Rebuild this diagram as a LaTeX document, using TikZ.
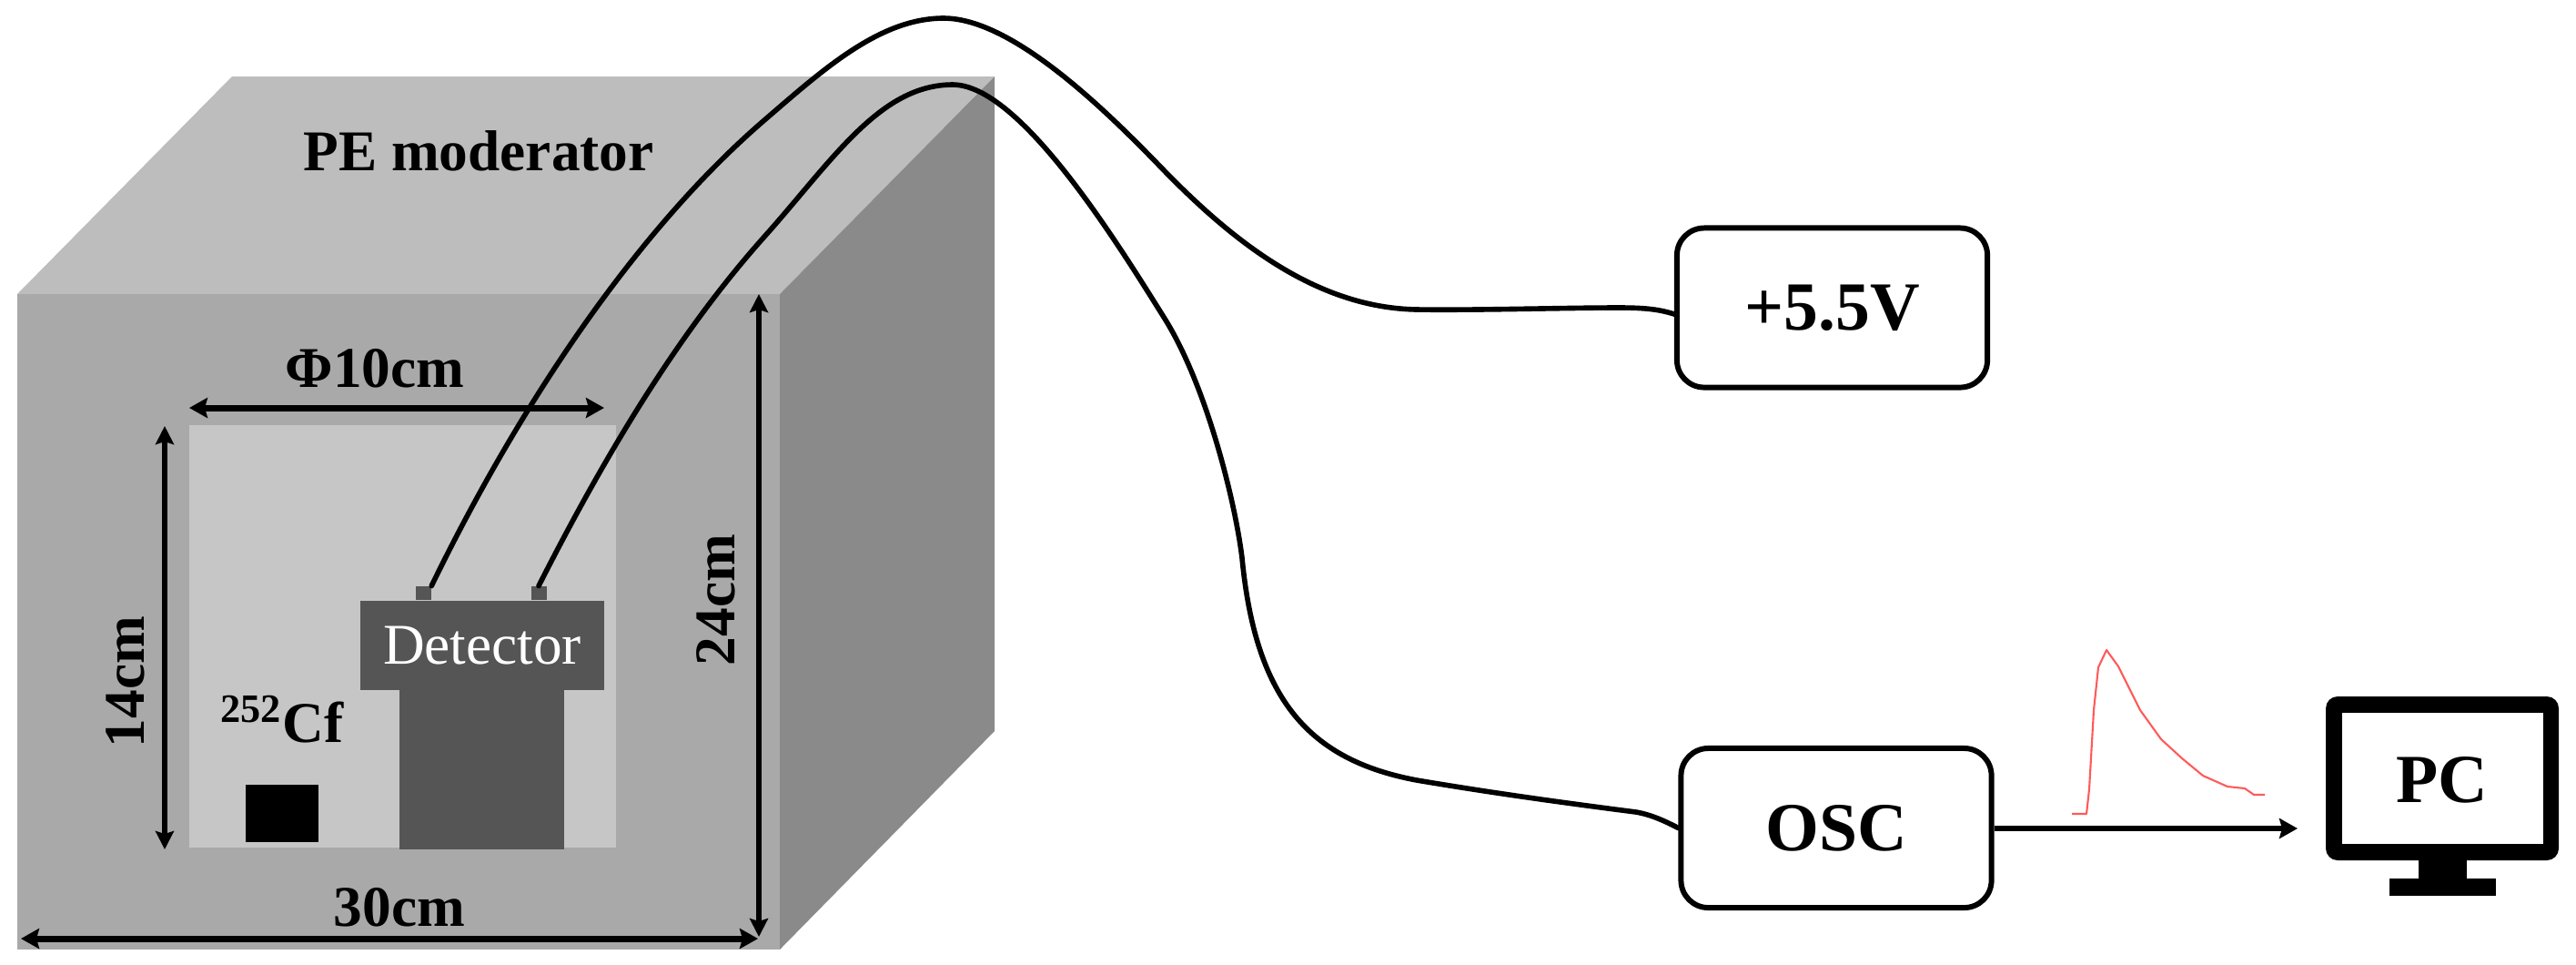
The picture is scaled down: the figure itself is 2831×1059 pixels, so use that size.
\documentclass[tikz,border=0pt]{standalone}
\usepackage{fontspec}
\setmainfont{Liberation Serif}
\usetikzlibrary{arrows.meta}
\definecolor{topface}{HTML}{BDBDBD}
\definecolor{frontface}{HTML}{A9A9A9}
\definecolor{sideface}{HTML}{8A8A8A}
\definecolor{cavity}{HTML}{C6C6C6}
\definecolor{detgray}{HTML}{555555}
\definecolor{pulse}{HTML}{FF5A5A}
\tikzset{
  lbl/.style={inner sep=0pt,font=\fontsize{18}{20}\selectfont\bfseries,text=black},
  boxlbl/.style={draw=black,line width=1.7pt,rounded corners=0.3cm,fill=white,inner sep=0pt,
     font=\fontsize{21.5}{24}\selectfont\bfseries,minimum width=3.41cm,minimum height=1.75cm},
  cable/.style={line width=1.6pt,black,line cap=round,line join=round},
  fatdim/.style={line width=2pt,black,{Stealth[length=0.2cm,width=0.22cm,inset=0.03cm]}-{Stealth[length=0.2cm,width=0.22cm,inset=0.03cm]}},
  thindim/.style={line width=1.6pt,black,{Stealth[length=0.2cm,width=0.2cm,inset=0.03cm]}-{Stealth[length=0.2cm,width=0.2cm,inset=0.03cm]}},
  pinnode/.style={fill=detgray,inner sep=0pt,minimum width=0.17cm,minimum height=0.15cm},
}
\begin{document}
\begin{tikzpicture}[x=0.01cm,y=-0.01cm]
\useasboundingbox (0,0) rectangle (2831,1059);
% cube
\fill[topface] (255,84) -- (1093,84) -- (857,323) -- (19,323) -- cycle;
\fill[sideface] (1093,84) -- (1093,803) -- (857,1043) -- (857,323) -- cycle;
\fill[frontface] (19,323) rectangle (857,1043);
% cavity
\fill[cavity] (208,467) rectangle (677,931);
% detector
\fill[detgray] (439,750) rectangle (620,933);
\node[fill=detgray,inner sep=0pt,minimum width=2.68cm,minimum height=0.98cm,text=white,font=\fontsize{18}{20}\selectfont] (det) at (530,709) {Detector};
\node[pinnode,anchor=south] (pinA) at (465,660) {};
\node[pinnode,anchor=south] (pinB) at (592,660) {};
% source
\node[fill=black,inner sep=0pt,minimum width=0.8cm,minimum height=0.63cm] (src) at (310,893.5) {};
\node[lbl] (cf) at (310,790) {\textsuperscript{252}Cf};
% text labels
\node[lbl] (pe) at (526,166) {PE moderator};
\node[lbl] (phi) at (412,405) {Φ10cm};
\node[lbl] (w30) at (439,997) {30cm};
\node[lbl,rotate=90] (h14) at (138,749) {14cm};
\node[lbl,rotate=90] (h24) at (787,659) {24cm};
% dimension arrows
\coordinate (phiL) at (208,448); \coordinate (phiR) at (664,448);
\coordinate (h14T) at (181,468); \coordinate (h14B) at (181,933);
\coordinate (h24T) at (834,323); \coordinate (h24B) at (834,1029);
\coordinate (w30L) at (23,1031); \coordinate (w30R) at (833,1031);
\draw[fatdim] (phiL) -- (phiR);
\draw[thindim] (h14T) -- (h14B);
\draw[thindim] (h24T) -- (h24B);
\draw[fatdim] (w30L) -- (w30R);
% boxes
\node[boxlbl] (psu) at (2013.5,338) {+5.5V};
\node[boxlbl] (osc) at (2018,909.5) {OSC};
\coordinate (psuin) at (1843,346);
% cables
\draw[cable] (pinA.north east)
  .. controls (561,465) and (689,262) .. (840,132)
  .. controls (905,76) and (967,20) .. (1037,20)
  .. controls (1115,20) and (1222,128) .. (1280,188)
  .. controls (1360,270) and (1450,338) .. (1557,340)
  .. controls (1620,341) and (1720,338) .. (1779,338)
  .. controls (1810,338) and (1825,340) .. (psuin);
\draw[cable] (pinB.north)
  .. controls (675,480) and (755,355) .. (840,260)
  .. controls (915,176) and (967,93) .. (1047,93)
  .. controls (1120,93) and (1225,262) .. (1280,350)
  .. controls (1325,422) and (1357,548) .. (1365,613)
  .. controls (1380,770) and (1440,835) .. (1557,857)
  .. controls (1640,871) and (1720,882) .. (1798,892)
  .. controls (1815,895) and (1830,902) .. (osc.west);
% monitor
\fill[black,rounded corners=0.13cm] (2556,765) rectangle (2812,945);
\fill[black] (2658,940) rectangle (2711,970);
\fill[black] (2626,965) rectangle (2743,984);
\node[fill=white,inner sep=0pt,minimum width=2.21cm,minimum height=1.44cm] (pcscreen) at (2684.5,855) {};
\node[lbl,font=\fontsize{21.5}{24}\selectfont\bfseries] (pc) at (2684,857) {PC};
% link to PC
\coordinate (pcarrow) at (2525,910);
\draw[line width=1.7pt,black,-{Stealth[length=0.2cm,width=0.22cm,inset=0.03cm]}] (osc.east |- pcarrow) -- (pcarrow);
% pulse
\draw[pulse,line width=0.6pt,line join=round] (2277,894) -- (2293,894) -- (2296,867) -- (2301,780) -- (2306,733) -- (2315,714) -- (2328,732) -- (2352,780) -- (2375,812) -- (2398,833) -- (2421,852) -- (2448,864) -- (2467,866) -- (2477,873) -- (2489,873);
\end{tikzpicture}
\end{document}
